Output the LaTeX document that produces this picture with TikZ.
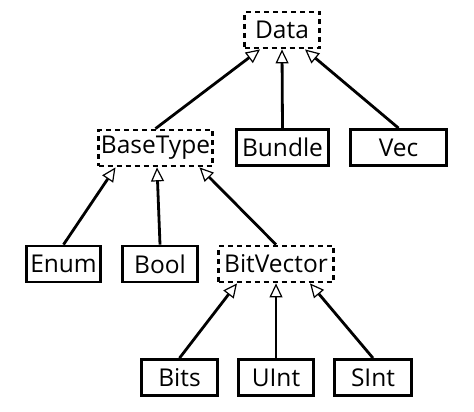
\documentclass[tikz,border=0pt]{standalone}
\usepackage{fontspec}
\setmainfont{Open Sans}
\usetikzlibrary{arrows.meta}
\begin{document}
\begin{tikzpicture}[x=1pt,y=1pt,
  cls/.style={draw, line width=2.8pt, minimum height=36pt, inner sep=2pt, font=\fontsize{24.5}{26}\selectfont},
  abs/.style={cls, dash pattern=on 5pt off 4pt},
  inh/.style={line width=2.8pt, -{Triangle[open, length=14pt, width=13pt, line width=1.2pt, fill=white]}}]
\useasboundingbox[fill=white] (0,0) rectangle (474,412);
\node[abs, minimum width=75pt] (data) at (282,382) {Data};
\node[abs, minimum width=114pt] (base) at (155.5,264) {BaseType};
\node[cls, minimum width=92pt] (bundle) at (282.5,264.5) {Bundle};
\node[cls, minimum width=96pt] (vec) at (398.5,264.5) {Vec};
\node[cls, minimum width=74pt] (enum) at (63.5,148) {Enum};
\node[cls, minimum width=75pt] (bool) at (160,148) {Bool};
\node[abs, minimum width=115pt] (bitvec) at (276,148) {BitVector};
\node[cls, minimum width=76pt] (bits) at (179.5,34.5) {Bits};
\node[cls, minimum width=75pt] (uint) at (276,34.5) {UInt};
\node[cls, minimum width=77pt] (sint) at (373,34.5) {SInt};
\draw[inh] (base.north) -- ([xshift=-22pt]data.south);
\draw[inh] (bundle.north) -- (data.south);
\draw[inh] (vec.north) -- ([xshift=23pt]data.south);
\draw[inh] (enum.north) -- ([xshift=-40pt]base.south);
\draw[inh] (bool.north) -- ([xshift=1.5pt]base.south);
\draw[inh] (bitvec.north) -- ([xshift=44pt]base.south);
\draw[inh] (bits.north) -- ([xshift=-39pt]bitvec.south);
\draw[inh] (uint.north) -- (bitvec.south);
\draw[inh] (sint.north) -- ([xshift=34pt]bitvec.south);
\end{tikzpicture}
\end{document}
